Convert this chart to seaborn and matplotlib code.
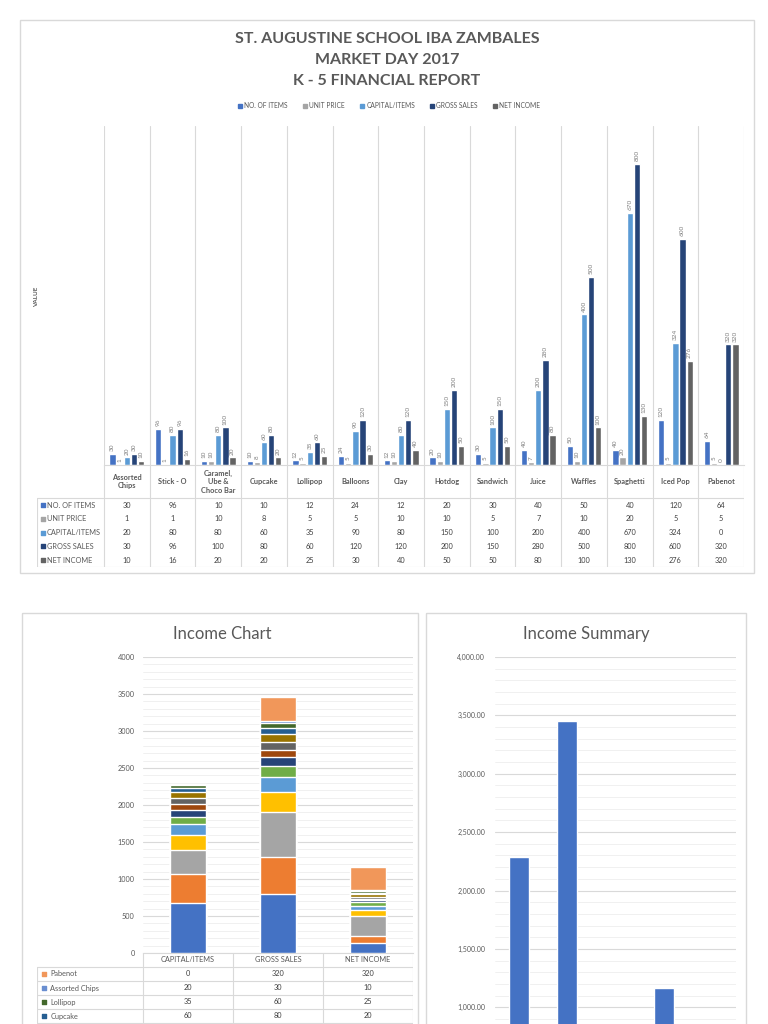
import numpy as np
import pandas as pd
import seaborn as sns
import matplotlib.pyplot as plt
from matplotlib.patches import Rectangle
from matplotlib.ticker import MultipleLocator, FuncFormatter

# ---- data ----
items = ['Assorted\nChips', 'Stick - O', 'Caramel,\nUbe &\nChoco Bar', 'Cupcake', 'Lollipop',
         'Balloons', 'Clay', 'Hotdog', 'Sandwich', 'Juice', 'Waffles', 'Spaghetti',
         'Iced Pop', 'Pabenot']
no_of_items = [30, 96, 10, 10, 12, 24, 12, 20, 30, 40, 50, 40, 120, 64]
unit_price = [1, 1, 10, 8, 5, 5, 10, 10, 5, 7, 10, 20, 5, 5]
capital_items = [20, 80, 80, 60, 35, 90, 80, 150, 100, 200, 400, 670, 324, 0]
gross_sales = [30, 96, 100, 80, 60, 120, 120, 200, 150, 280, 500, 800, 600, 320]
net_income = [10, 16, 20, 20, 25, 30, 40, 50, 50, 80, 100, 130, 276, 320]

metrics = ['NO. OF ITEMS', 'UNIT PRICE', 'CAPITAL/ITEMS', 'GROSS SALES', 'NET INCOME']
metric_colors = ['#4472C4', '#A5A5A5', '#5B9BD5', '#264478', '#636363']

stack_cats = ['CAPITAL/ITEMS', 'GROSS SALES', 'NET INCOME']
stack_colors = ['#4472C4', '#ED7D31', '#A5A5A5', '#FFC000', '#5B9BD5', '#70AD47', '#264478',
                '#9E480E', '#636363', '#997300', '#255E91', '#43682B', '#698ED0', '#F1975A']

summary_labels = ['CAPITAL/ITEMS', 'GROSS SALES', 'BLANK 1', 'NET INCOME', 'BLANK 2']
summary_values = [2289, 3456, 0, 1167, 0]

TXT = '#595959'
GRID = '#d9d9d9'
W, H = 768, 1024

sns.set_style('white')
plt.rcParams['font.family'] = ['Lato', 'DejaVu Sans']

fig = plt.figure(figsize=(W / 100, H / 100), dpi=100)


def px_axes(x0, y0, x1, y1, **kw):
    return fig.add_axes([x0 / W, 1 - y1 / H, (x1 - x0) / W, (y1 - y0) / H], **kw)


# background frame layer in pixel coords
bg = px_axes(0, 0, W, H)
bg.set_xlim(0, W)
bg.set_ylim(H, 0)
bg.axis('off')
for (x0, y0, x1, y1) in [(20, 20, 754, 573), (22, 613, 418, 1100), (426, 613, 746, 1100)]:
    bg.add_patch(Rectangle((x0, y0), x1 - x0, y1 - y0, fill=False, ec=GRID, lw=1))
bg.text(387, 39, 'ST. AUGUSTINE SCHOOL IBA ZAMBALES', ha='center', va='center',
        fontsize=11.5, fontweight='bold', color=TXT)
bg.text(387, 60, 'MARKET DAY 2017', ha='center', va='center',
        fontsize=11.5, fontweight='bold', color=TXT)
bg.text(387, 81, 'K - 5 FINANCIAL REPORT', ha='center', va='center',
        fontsize=11.5, fontweight='bold', color=TXT)
bg.text(37, 297, 'VALUE', ha='center', va='center', rotation=90,
        fontsize=4.5, fontweight='bold', color=TXT)
bg.text(222, 634, 'Income Chart', ha='center', va='center', fontsize=12, color=TXT)
bg.text(586, 634, 'Income Summary', ha='center', va='center', fontsize=12, color=TXT)

# ---- top grouped bar chart ----
long = pd.DataFrame({
    'item': np.tile(items, 5),
    'metric': np.repeat(metrics, len(items)),
    'value': np.concatenate([no_of_items, unit_price, capital_items, gross_sales, net_income]),
})
ax = px_axes(104, 126, 744, 465)
sns.barplot(data=long, x='item', y='value', hue='metric', order=items, hue_order=metrics,
            palette=metric_colors, saturation=1, width=0.78, gap=0.12, legend=False, ax=ax)
for cont in ax.containers:
    ax.bar_label(cont, fmt='%g', rotation=90, padding=2, fontsize=4.6, color='#7f7f7f')
ax.set_xlim(-0.5, len(items) - 0.5)
ax.set_ylim(0, 900)
ax.set_xticks([])
ax.set_yticks([])
ax.set_xlabel('')
ax.set_ylabel('')
for s in ['top', 'left', 'right']:
    ax.spines[s].set_visible(False)
ax.spines['bottom'].set_color(GRID)
for b in np.arange(-0.5, len(items), 1.0):
    ax.axvline(b, color=GRID, lw=0.8, zorder=0)

handles = [Rectangle((0, 0), 1, 1, color=c) for c in metric_colors]
fig.legend(handles, metrics, loc='center', bbox_to_anchor=(389 / W, 1 - 106 / H), ncol=5,
           frameon=False, fontsize=4.8, handlelength=0.6, handleheight=0.6,
           handletextpad=0.4, columnspacing=2.2, labelcolor=TXT)

# data table under the top chart (y = pixels below the axis line)
colw = (744 - 104) / len(items)
left = -0.5 - (104 - 37) / colw
tb = px_axes(37, 465, 744, 567)
tb.set_xlim(left, len(items) - 0.5)
tb.set_ylim(102, 0)
tb.axis('off')
for b in np.arange(-0.5, len(items), 1.0):
    tb.plot([b, b], [0, 102], color=GRID, lw=0.8)
tb.plot([left, left], [33, 102], color=GRID, lw=0.8)
tb.plot([left, len(items) - 0.5], [33, 33], color=GRID, lw=0.8)
tb.plot([left, len(items) - 0.5], [102, 102], color=GRID, lw=0.8)
for i, name in enumerate(items):
    tb.text(i, 16.5, name, ha='center', va='center', fontsize=5.3, color=TXT,
            fontweight='bold', linespacing=1.25)
rows = [no_of_items, unit_price, capital_items, gross_sales, net_income]
for r, (label, col, vals) in enumerate(zip(metrics, metric_colors, rows)):
    y = 40 + 13.8 * r
    tb.scatter([left + 0.13], [y], marker='s', s=6, color=col)
    tb.text(left + 0.22, y, label, ha='left', va='center', fontsize=5.3, color=TXT)
    for i, v in enumerate(vals):
        tb.text(i, y, f'{v}', ha='center', va='center', fontsize=5.3, color='#404040')

# ---- bottom left stacked chart ----
stack_df = pd.DataFrame({'item': [s.replace('\n', ' ') for s in items],
                         'CAPITAL/ITEMS': capital_items, 'GROSS SALES': gross_sales,
                         'NET INCOME': net_income})
stack_df = stack_df.sort_values('CAPITAL/ITEMS', ascending=False, kind='stable')
cum = stack_df[stack_cats].cumsum()

ax2 = px_axes(143, 657, 413, 953)
for k in range(len(stack_df) - 1, -1, -1):
    sns.barplot(x=stack_cats, y=cum.iloc[k].values, color=stack_colors[k], saturation=1,
                width=0.41, ax=ax2, zorder=3)
ax2.set_ylim(0, 4000)
ax2.set_xlim(-0.5, 2.5)
ax2.yaxis.set_major_locator(MultipleLocator(500))
ax2.yaxis.set_minor_locator(MultipleLocator(100))
ax2.grid(which='major', axis='y', color=GRID, lw=0.8)
ax2.grid(which='minor', axis='y', color='#eeeeee', lw=0.6)
ax2.set_axisbelow(True)
ax2.tick_params(axis='y', which='both', length=0, labelsize=5.3, labelcolor=TXT, pad=6)
ax2.set_xticks([])
ax2.set_xlabel('')
for s in ['top', 'left', 'right']:
    ax2.spines[s].set_visible(False)
ax2.spines['bottom'].set_color(GRID)

# data table under the stacked chart; the page is cut after the 4th row
left2 = -0.5 - (143 - 37) / 90
tb2 = px_axes(37, 953, 413, 1163)
tb2.set_xlim(left2, 2.5)
tb2.set_ylim(210, 0)
tb2.axis('off')
for b in [-0.5, 0.5, 1.5, 2.5]:
    tb2.plot([b, b], [0, 210], color=GRID, lw=0.8)
tb2.plot([left2, left2], [14, 210], color=GRID, lw=0.8)
for j, c in enumerate(stack_cats):
    tb2.text(j, 7, c, ha='center', va='center', fontsize=5.3, color=TXT)
rev = stack_df.iloc[::-1].reset_index(drop=True)
rev_colors = stack_colors[:len(stack_df)][::-1]
rows_shown = 4
for r in range(len(rev)):
    y0 = 14 + 14 * r
    tb2.plot([left2, 2.5], [y0, y0], color=GRID, lw=0.8)
    if r >= rows_shown:
        continue
    yc = y0 + 7
    tb2.scatter([left2 + 0.08], [yc], marker='s', s=6, color=rev_colors[r])
    tb2.text(left2 + 0.15, yc, rev.loc[r, 'item'], ha='left', va='center', fontsize=5.3, color=TXT)
    for j, c in enumerate(stack_cats):
        tb2.text(j, yc, f"{rev.loc[r, c]}", ha='center', va='center', fontsize=5.3, color='#404040')

# ---- bottom right summary chart (its lower part lies below the page) ----
ax3 = px_axes(495, 657, 736, 1124)
sns.barplot(x=summary_labels, y=summary_values, color='#4472C4', saturation=1,
            width=0.41, ax=ax3, zorder=3)
ax3.set_ylim(0, 4000)
ax3.yaxis.set_major_locator(MultipleLocator(500))
ax3.yaxis.set_minor_locator(MultipleLocator(100))
ax3.yaxis.set_major_formatter(FuncFormatter(lambda v, p: f'{v:,.2f}' if v >= 1000 else ''))
ax3.grid(which='major', axis='y', color=GRID, lw=0.8)
ax3.grid(which='minor', axis='y', color='#eeeeee', lw=0.6)
ax3.set_axisbelow(True)
ax3.tick_params(axis='y', which='both', length=0, labelsize=5, labelcolor=TXT, pad=7)
ax3.set_xticks([])
ax3.set_xlabel('')
for s in ['top', 'left', 'right']:
    ax3.spines[s].set_visible(False)
ax3.spines['bottom'].set_color(GRID)

fig.savefig('out.png', dpi=100)
